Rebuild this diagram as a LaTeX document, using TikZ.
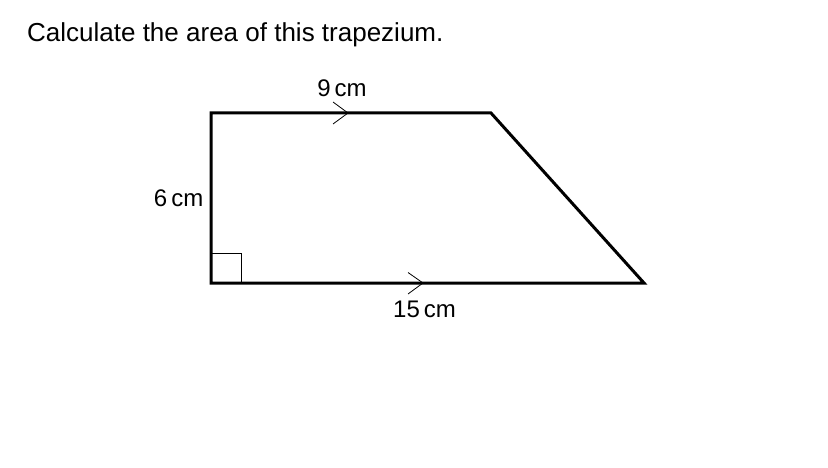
\documentclass[tikz,border=0pt]{standalone}
\usepackage{fontspec}
\setmainfont{Liberation Sans}
\begin{document}
\begin{tikzpicture}[x=1pt,y=-1pt,
  edge/.style={line width=3pt,line join=miter},
  thin/.style={line width=0.8pt},
  lbl/.style={inner sep=0pt,font=\fontsize{24}{28}\selectfont},
  ttl/.style={inner sep=0pt,font=\fontsize{26}{30}\selectfont}]
\useasboundingbox[fill=white] (0,0) rectangle (828,468);
\node[ttl,anchor=base west] (title) at (27,41.5) {Calculate the area of this trapezium.};
\coordinate (A) at (211,113);
\coordinate (B) at (491,113);
\coordinate (C) at (644,283);
\coordinate (D) at (211,283);
\draw[edge] (A) -- (B) -- (C) -- (D) -- cycle;
% right angle
\coordinate (R1) at (241.5,283);
\coordinate (R2) at (241.5,253);
\coordinate (R3) at (211,253);
\draw[thin] (R1) -- (R2) -- (R3);
% parallel marks
\coordinate (T) at (348,113);
\coordinate (T1) at (333,102);
\coordinate (T2) at (333,124);
\draw[thin] (T1) -- (T) -- (T2);
\coordinate (U) at (423,283);
\coordinate (U1) at (408,272.5);
\coordinate (U2) at (408,294);
\draw[thin] (U1) -- (U) -- (U2);
% labels
\node[lbl,anchor=base] (l9) at (342,97) {9\,cm};
\node[lbl,anchor=base east] (l6) at (203.5,207) {6\,cm};
\node[lbl,anchor=base] (l15) at (424.5,317) {15\,cm};
\end{tikzpicture}
\end{document}
